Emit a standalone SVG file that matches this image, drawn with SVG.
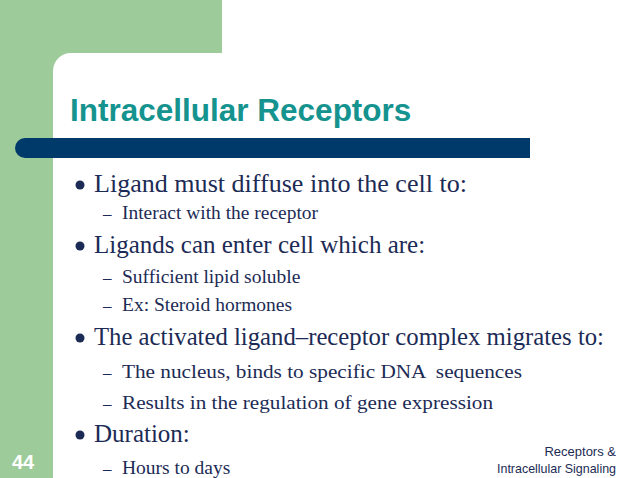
<svg xmlns="http://www.w3.org/2000/svg" width="638" height="478" viewBox="0 0 638 478">
<style>
.b{font-family:"Liberation Serif",serif;font-size:25px;fill:#1c2b55}
.s{font-family:"Liberation Serif",serif;font-size:19.5px;fill:#1c2b55}
.d{font-family:"Liberation Serif",serif;font-size:17px;fill:#1c2b55}
.f{font-family:"Liberation Sans",sans-serif;font-size:13px;fill:#1c2b55;text-anchor:end}
</style>
<rect width="638" height="478" fill="#fff"/>
<g id="background">
<path d="M0 0H222V53H71A18 18 0 0 0 53 71V478H0Z" fill="#9ecb9a"/>
</g>
<g id="title">
<text x="70" y="121" font-family="Liberation Sans,sans-serif" font-weight="bold" font-size="31.5" fill="#15938f">Intracellular Receptors</text>
<path d="M25 138H530V158H25A10 10 0 0 1 25 138Z" fill="#003a6b"/>
</g>
<g id="bullets">
<circle cx="80" cy="185" r="4.5" fill="#1c2b55"/>
<text class="b" x="94" y="192" textLength="373" lengthAdjust="spacingAndGlyphs">Ligand must diffuse into the cell to:</text>
<text class="d" x="103" y="219">–</text><text class="s" x="122" y="219" textLength="196" lengthAdjust="spacingAndGlyphs">Interact with the receptor</text>
<circle cx="80" cy="246" r="4.5" fill="#1c2b55"/>
<text class="b" x="94" y="253">Ligands can enter cell which are:</text>
<text class="d" x="103" y="283">–</text><text class="s" x="122" y="283">Sufficient lipid soluble</text>
<text class="d" x="103" y="311">–</text><text class="s" x="122" y="311">Ex: Steroid hormones</text>
<circle cx="80" cy="338" r="4.5" fill="#1c2b55"/>
<text class="b" x="94" y="345" textLength="510" lengthAdjust="spacingAndGlyphs">The activated ligand–receptor complex migrates to:</text>
<text class="d" x="103" y="378">–</text><text class="s" x="122" y="378" textLength="400" lengthAdjust="spacingAndGlyphs" xml:space="preserve">The nucleus, binds to specific DNA  sequences</text>
<text class="d" x="103" y="409">–</text><text class="s" x="122" y="409" textLength="371" lengthAdjust="spacingAndGlyphs">Results in the regulation of gene expression</text>
<circle cx="80" cy="435" r="4.5" fill="#1c2b55"/>
<text class="b" x="94" y="442">Duration:</text>
<text class="d" x="103" y="474">–</text><text class="s" x="122" y="474">Hours to days</text>
</g>
<g id="footer">
<text x="12" y="469" font-family="Liberation Sans,sans-serif" font-weight="bold" font-size="20" fill="#fff">44</text>
<text class="f" x="616" y="456">Receptors &amp;</text>
<text class="f" x="616" y="473" textLength="119" lengthAdjust="spacingAndGlyphs">Intracellular Signaling</text>
</g>
</svg>
